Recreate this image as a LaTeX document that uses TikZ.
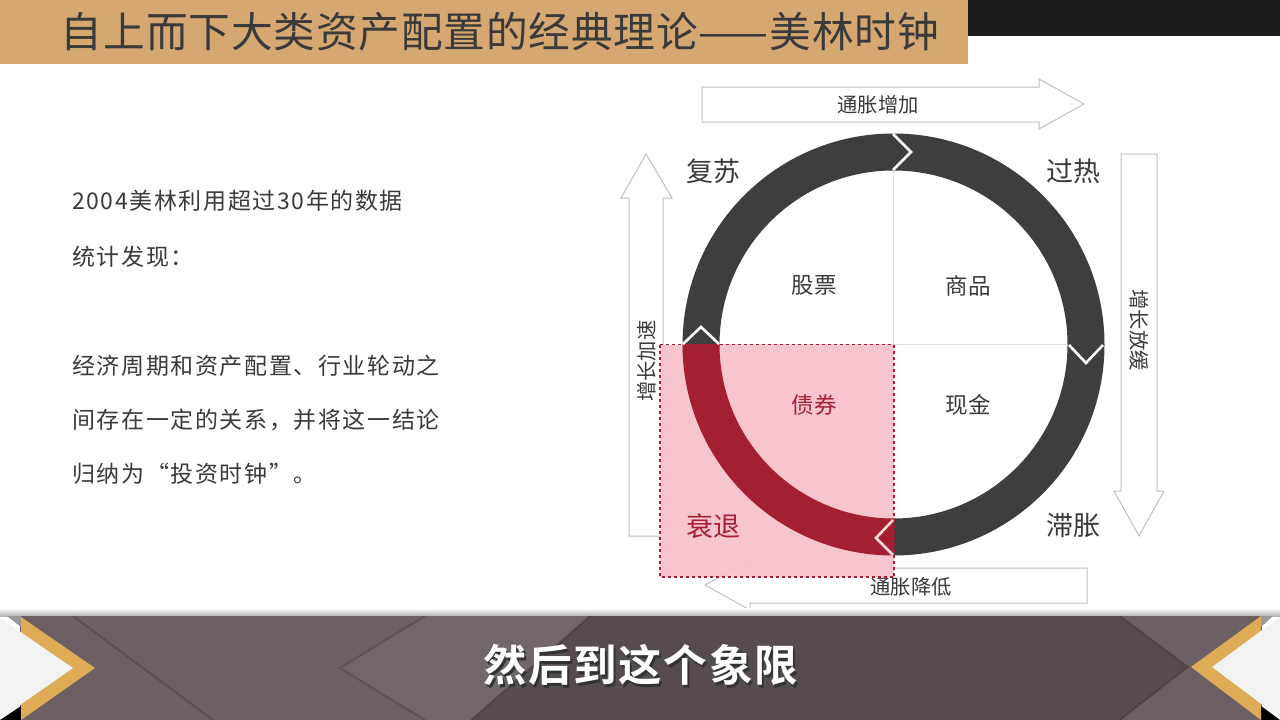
\documentclass[tikz,border=0pt]{standalone}
\usepackage{fontspec}
\setmainfont{Noto Sans CJK SC}
\newfontfamily\spaced[LetterSpace=7]{Noto Sans CJK SC}
\newfontfamily\titlef[LetterSpace=2]{Noto Sans CJK SC}
\newfontfamily\subf[LetterSpace=4]{Noto Sans CJK SC Bold}
\definecolor{ink}{HTML}{3A3A3A}
\definecolor{ringdark}{HTML}{3E3E3E}
\definecolor{ringred}{HTML}{A51F33}
\definecolor{pinkfill}{HTML}{F8BFCA}
\definecolor{gold}{HTML}{D6A871}
\definecolor{goldb}{HTML}{DEAB56}
\definecolor{bandl}{HTML}{6C6064}
\definecolor{bandm}{HTML}{716669}
\definecolor{bandd}{HTML}{564B4D}
\definecolor{toppanel}{HTML}{1F1D1C}
\tikzset{
 blockarrow/.style={draw=black!25,line width=1pt,fill=white,line join=miter},
 lab/.style={text=ink,inner sep=0pt,font=\fontsize{20.3}{20.3}\selectfont},
 quad/.style={text=ink,inner sep=0pt,font=\fontsize{27}{27}\selectfont},
 asset/.style={text=ink,inner sep=0pt,font=\fontsize{22.5}{22.5}\selectfont},
 body/.style={text=ink,inner sep=0pt,anchor=west,font=\fontsize{23}{23}\selectfont\spaced},
 chev/.style={draw=white,line width=2.6pt,line cap=butt,line join=miter},
 facet/.style={draw=black,line width=2pt,opacity=.16,line join=miter}
}
\begin{document}
\begin{tikzpicture}[x=1pt,y=-1pt]
\useasboundingbox (0,0) rectangle (1280,720);
\fill[white] (0,0) rectangle (1280,720);
% header
\fill[toppanel] (968,0) rectangle (1280,36);
\fill[gold] (0,0) rectangle (968,64);
\node[text=ink,inner sep=0pt,font=\fontsize{41.7}{41.7}\selectfont\titlef] (title) at (500,32) {自上而下大类资产配置的经典理论——美林时钟};
% left text
\node[body] (t1) at (72,201) {2004美林利用超过30年的数据};
\node[body] (t2) at (72,257) {统计发现：};
\node[body] (t3) at (72,366) {经济周期和资产配置、行业轮动之};
\node[body] (t4) at (72,420) {间存在一定的关系，并将这一结论};
\node[body] (t5) at (72,474) {归纳为“投资时钟”。};
% block arrows
\draw[blockarrow] (702,87) -- (1039,87) -- (1039,79) -- (1084,104) -- (1039,129) -- (1039,122) -- (702,122) -- cycle;
\draw[blockarrow] (629,536) -- (629,198) -- (621,198) -- (646,154) -- (672,198) -- (663,198) -- (663,536) -- cycle;
\draw[blockarrow] (1121,154) -- (1157,154) -- (1157,491) -- (1164,491) -- (1139,536) -- (1114,491) -- (1121,491) -- cycle;
\draw[blockarrow] (1087,568) -- (750,568) -- (750,560) -- (705,585) -- (750,610) -- (750,603) -- (1087,603) -- cycle;
\node[lab] (up) at (878,105) {通胀增加};
\node[lab] (down) at (911,587) {通胀降低};
\node[lab,rotate=90] (acc) at (647,361) {增长加速};
\node[lab,rotate=-90] (slow) at (1139,330) {增长放缓};
% cross
\coordinate (c) at (893.5,344.5);
\draw[black!15,line width=.8pt] (893.5,170) -- (893.5,518) (720,344.5) -- (1067,344.5);
% ring
\fill[ringdark,even odd rule] (c) circle[radius=211pt] (c) circle[radius=174pt];
% highlight square
\fill[pinkfill,opacity=.92] (660,344.5) rectangle (894,577);
\begin{scope}
\clip (660,344.5) rectangle (894,577);
\fill[ringred,even odd rule] (c) circle[radius=211pt] (c) circle[radius=174pt];
\end{scope}
\draw[ringred,line width=1.8pt,dash pattern=on 3pt off 3pt] (660,344.5) rectangle (894,577);
% chevrons
\draw[chev] (893,134) -- (911,152) -- (893,170);
\draw[chev] (1069,345) -- (1086,363) -- (1103,345);
\draw[chev] (683,344) -- (701,327) -- (719,344);
\draw[chev,draw=pinkfill!60!white] (893,520) -- (876,538) -- (893,555);
% labels
\node[quad] (q1) at (713,171) {复苏};
\node[quad] (q2) at (1073,171) {过热};
\node[quad,text=ringred] (q3) at (713,526) {衰退};
\node[quad] (q4) at (1073,526) {滞胀};
\node[asset] (a1) at (814,285) {股票};
\node[asset] (a2) at (968,286) {商品};
\node[asset,text=ringred] (a3) at (814,405) {债券};
\node[asset] (a4) at (968,405) {现金};
% bottom band
\shade[top color=white,bottom color=black!30] (0,608) rectangle (1280,616);
\fill[bandl] (20,616) rectangle (1262,720);
\fill[bandm] (425,616) -- (590,616) -- (471,720) -- (425,720) -- (340,668) -- cycle;
\fill[bandd] (590,616) -- (1120,616) -- (1188,667) -- (1120,720) -- (471,720) -- cycle;
\draw[facet] (73,616) -- (213,720);
\draw[facet] (425,616) -- (340,668) -- (425,720);
\draw[facet] (590,616) -- (471,720);
\draw[facet] (1120,616) -- (1188,667) -- (1120,720);
% corner chevrons
\fill[black!40] (7,616) -- (21,616) -- (21,627) -- cycle;
\fill[black] (0,720) -- (21,706) -- (21,720) -- cycle;
\fill[black!40] (1273,616) -- (1261,616) -- (1261,627) -- cycle;
\fill[black] (1280,720) -- (1261,706) -- (1261,720) -- cycle;
\fill[goldb] (21,617) -- (95,668) -- (21,720) -- cycle;
\fill[white!95!black] (0,618) -- (73,668) -- (0,719) -- cycle;
\fill[goldb] (1261,616) -- (1191,667) -- (1261,720) -- cycle;
\fill[white!95!black] (1280,617) -- (1212,667) -- (1280,718) -- cycle;
% subtitle
\node[text=black!80,inner sep=0pt,font=\fontsize{43.5}{43.5}\selectfont\subf] (subs) at (642.5,667.5) {然后到这个象限};
\node[text=white,inner sep=0pt,font=\fontsize{43.5}{43.5}\selectfont\subf] (sub) at (640.5,665) {然后到这个象限};
\end{tikzpicture}
\end{document}
